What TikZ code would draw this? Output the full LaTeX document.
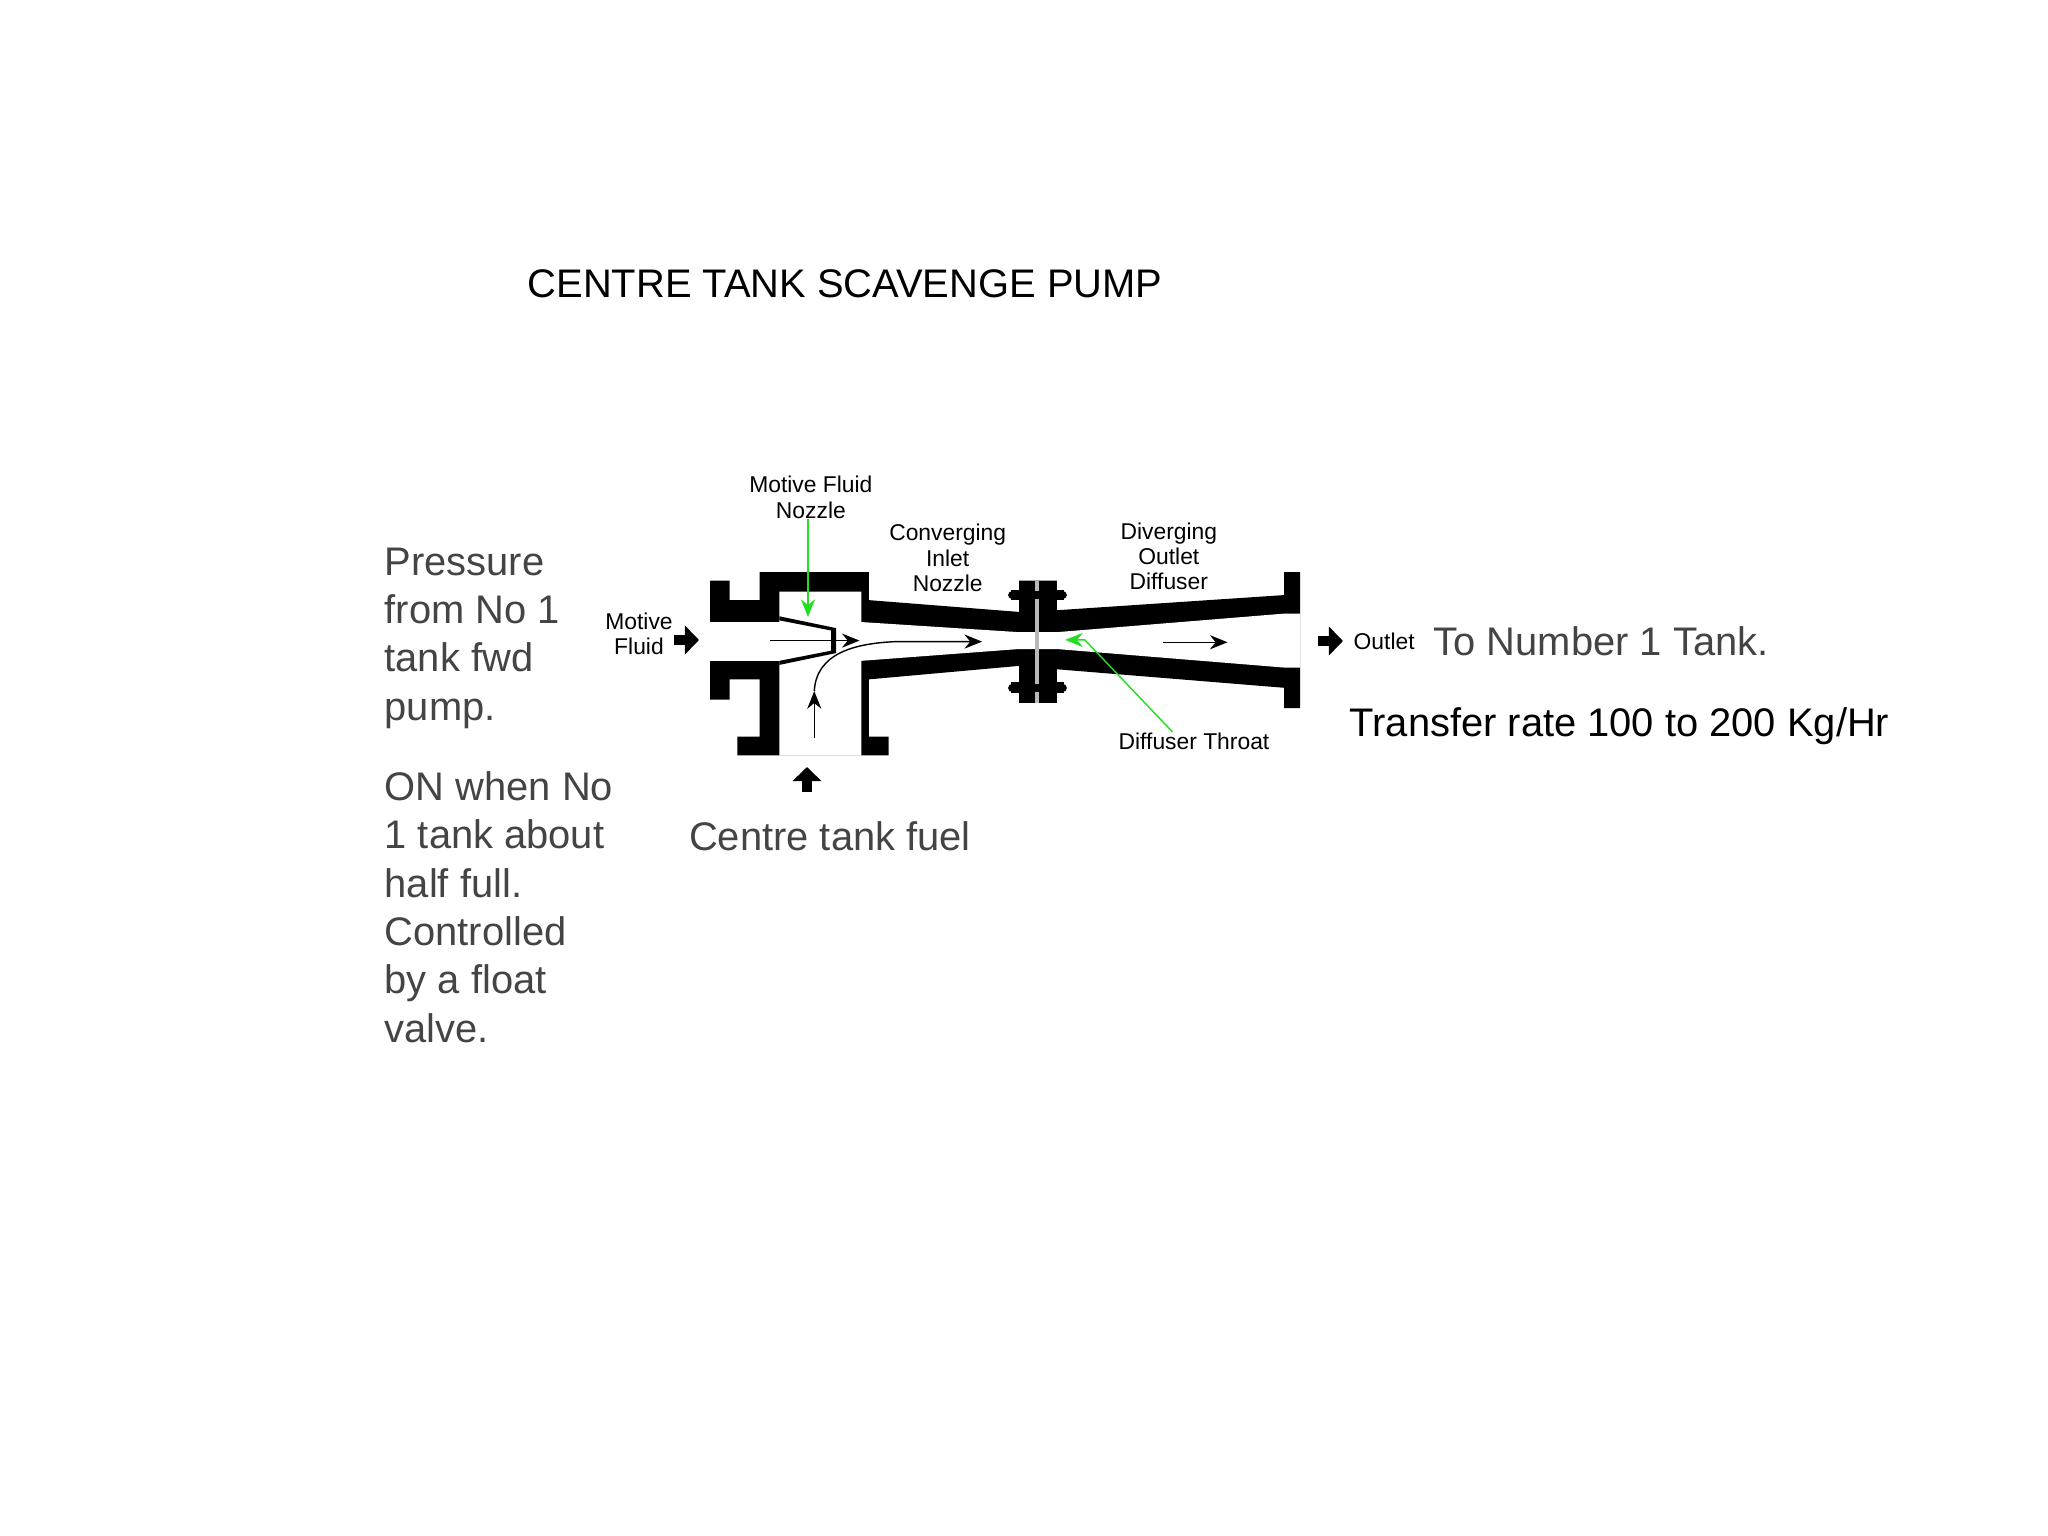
\documentclass[tikz,border=0pt]{standalone}
\usepackage{fontspec}
\setmainfont{Liberation Sans}
\usepackage{tikz}
\usetikzlibrary{arrows.meta}
\definecolor{textgray}{HTML}{444444}
\definecolor{pointgreen}{HTML}{22DD22}

\begin{document}
\begin{tikzpicture}[
	big/.style={font=\fontsize{11.35}{13.75}\selectfont, inner sep=0pt},
	tag/.style={font=\fontsize{6.5}{7.2}\selectfont, align=center, inner sep=0pt},
	flow/.style={-{Stealth[length=5pt,width=4pt]}, thin},
	fat/.style={line width=2.6pt, -{Triangle[length=4pt,width=8pt]}},
	pointer/.style={pointgreen, -{Stealth[length=5pt,width=4pt]}, thin}]
	\useasboundingbox (0,0) rectangle (20.48,-15.36);

	% titles and notes
	\node[big, anchor=base] (title) at (8.45,-2.98) {CENTRE TANK SCAVENGE PUMP};
	\node[big, textgray, anchor=north west, align=left] (press) at (3.84,-5.47) {Pressure\\from No 1\\tank fwd\\pump.};
	\node[big, textgray, anchor=north west, align=left] (onwhen) at (3.84,-7.71) {ON when No\\1 tank about\\half full.\\Controlled\\by a float\\valve.};
	\node[big, textgray, anchor=base] (ctf) at (8.30,-8.50) {Centre tank fuel};
	\node[big, textgray, anchor=base west] (tono) at (14.33,-6.55) {To Number 1 Tank.};
	\node[big, anchor=base west] (rate) at (13.49,-7.37) {Transfer rate 100 to 200 Kg/Hr};
	\node[tag] (motive) at (6.39,-6.34) {Motive\\Fluid};
	\node[tag, anchor=west] (outlet) at (13.53,-6.41) {Outlet};

	% fat arrows
	\coordinate (inA) at (6.74,-6.40);
	\coordinate (inB) at (6.99,-6.40);
	\draw[fat] (inA) -- (inB);
	\coordinate (outA) at (13.18,-6.41);
	\coordinate (outB) at (13.43,-6.41);
	\draw[fat] (outA) -- (outB);
	\coordinate (upA) at (8.07,-7.92);
	\coordinate (upB) at (8.07,-7.67);
	\draw[fat] (upA) -- (upB);

	\begin{scope}[shift={(6.8,-4.585)}, x=0.0042cm, y=-0.00337cm]
	% body
	\fill[black] (72,362) -- (118,362) -- (118,420) -- (190,420) -- (190,337) -- (450,337)
		-- (450,420) -- (808,455) -- (808,362) -- (898,362) -- (898,450) -- (1440,405)
		-- (1440,337) -- (1478,337) -- (1478,740) -- (1440,740) -- (1440,680) -- (898,625)
		-- (898,725) -- (808,725) -- (808,615) -- (450,655) -- (450,825) -- (497,825)
		-- (497,880) -- (137,880) -- (137,825) -- (190,825) -- (190,655) -- (118,655)
		-- (118,715) -- (72,715) -- cycle;
	% bore
	\fill[white] (72,485) -- (237,485) -- (237,395) -- (432,395) -- (432,485) -- (808,515)
		-- (898,515) -- (1440,460) -- (1478,460) -- (1478,620) -- (1440,620) -- (898,565)
		-- (808,565) -- (432,600) -- (432,881) -- (237,881) -- (237,600) -- (72,600) -- cycle;
	% nozzle
	\fill[black] (237,468) -- (372,503) -- (372,577) -- (237,612) -- (237,600) -- (360,570)
		-- (360,510) -- (237,480) -- cycle;
	% flange joint and bolts
	\fill[gray!55] (845,362) rectangle (855,725);
	\foreach \y in {405,680}{
		\draw[line width=2.4pt, line cap=round] (792,\y) -- (912,\y);
		\fill[black] (790,\y-16) rectangle (808,\y+16);
		\fill[black] (898,\y-16) rectangle (916,\y+16);
	}

	% flow arrows
	\draw[flow] (215,540) -- (428,540);
	\draw[flow] (320,830) -- (320,690);
	\draw[flow] (320,690) .. controls (325,575) and (420,548) .. (515,543) -- (720,543);
	\draw[flow] (1150,545) -- (1305,545);

	% labels
	\node[tag] (mfn) at (312,115) {Motive Fluid\\Nozzle};
	\node[tag] (cin) at (638,295) {Converging\\Inlet\\Nozzle};
	\node[tag] (dod) at (1165,290) {Diverging\\Outlet\\Diffuser};
	\node[tag] (dt) at (1225,838) {Diffuser Throat};
	\coordinate (nz) at (305,470);
	\coordinate (bend) at (965,538);
	\coordinate (throat) at (918,538);
	\draw[pointer] (mfn.south -| nz) -- (nz);
	\draw[pointer] (dt.north west) ++(130,0) -- (bend) -- (throat);
	\end{scope}
\end{tikzpicture}
\end{document}
